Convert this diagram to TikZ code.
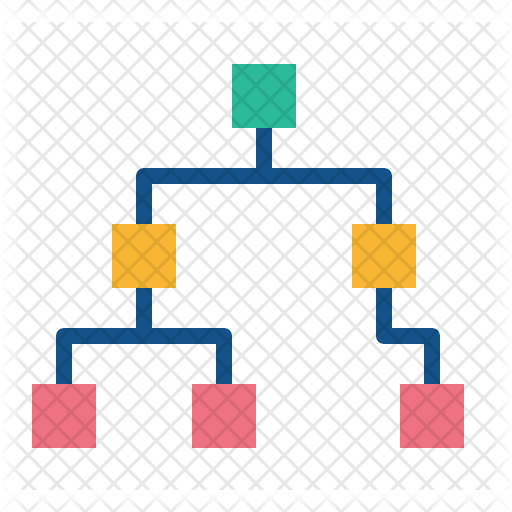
\documentclass[tikz,border=0pt]{standalone}
\usetikzlibrary{fadings}
\definecolor{cteal}{HTML}{2CBA9B}
\definecolor{corange}{HTML}{F9B634}
\definecolor{cpink}{HTML}{EF7282}
\definecolor{cblue}{HTML}{155289}
\tikzfading[name=fadeR, left color=transparent!0, right color=transparent!100]
\tikzfading[name=fadeL, left color=transparent!100, right color=transparent!0]
\tikzfading[name=fadeD, top color=transparent!0, bottom color=transparent!100]
\tikzfading[name=fadeU, top color=transparent!100, bottom color=transparent!0]
\tikzset{
  box/.style={draw=none, inner sep=0pt, minimum width=1.28cm, minimum height=1.28cm},
  conn/.style={draw=cblue, line width=0.32cm, line join=round, line cap=butt},
  gridline/.style={draw=black, line width=0.06cm}
}
\begin{document}
\begin{tikzpicture}[x=0.02cm, y=-0.02cm]
\useasboundingbox (0,0) rectangle (512,512);
\fill[white] (0,0) rectangle (512,512);
% nodes
\coordinate (j1) at (264,176);
\coordinate (j2) at (144,336);
\coordinate (j3) at (384,336);
\node[box] (top) at (264,96) {};
\node[box] (L1) at (144,256) {};
\node[box] (R1) at (384,256) {};
\node[box] (LL) at (64,416) {};
\node[box] (LM) at (224,416) {};
\node[box] (RR) at (432,416) {};
% connectors
\draw[conn] (top.south) -- (j1);
\draw[conn] (L1.north) |- (j1) -| (R1.north);
\draw[conn] (L1.south) -- (j2);
\draw[conn] (LL.north) |- (j2) -| (LM.north);
\draw[conn] (R1.south) -- (j3) -- (j3 -| RR.north) -- (RR.north);
% boxes on top
\fill[cteal] (top.south west) rectangle (top.north east);
\fill[corange] (L1.south west) rectangle (L1.north east);
\fill[corange] (R1.south west) rectangle (R1.north east);
\fill[cpink] (LL.south west) rectangle (LL.north east);
\fill[cpink] (LM.south west) rectangle (LM.north east);
\fill[cpink] (RR.south west) rectangle (RR.north east);
% watermark grid
\begin{scope}[transparency group, opacity=0.09]
  \clip (0,0) rectangle (512,512);
  \foreach \k in {0,...,36} {
    \pgfmathsetmacro\c{28.444*\k}
    \draw[gridline] (\c,0) -- ({\c-512},512);
  }
  \foreach \k in {-18,...,18} {
    \pgfmathsetmacro\c{28.444*\k}
    \draw[gridline] (\c,0) -- ({\c+512},512);
  }
\end{scope}
% edge fades
\fill[white, path fading=fadeR] (0,0) rectangle (22,512);
\fill[white, path fading=fadeL] (490,0) rectangle (512,512);
\fill[white, path fading=fadeU] (0,0) rectangle (512,22);
\fill[white, path fading=fadeD] (0,490) rectangle (512,512);
\end{tikzpicture}
\end{document}
